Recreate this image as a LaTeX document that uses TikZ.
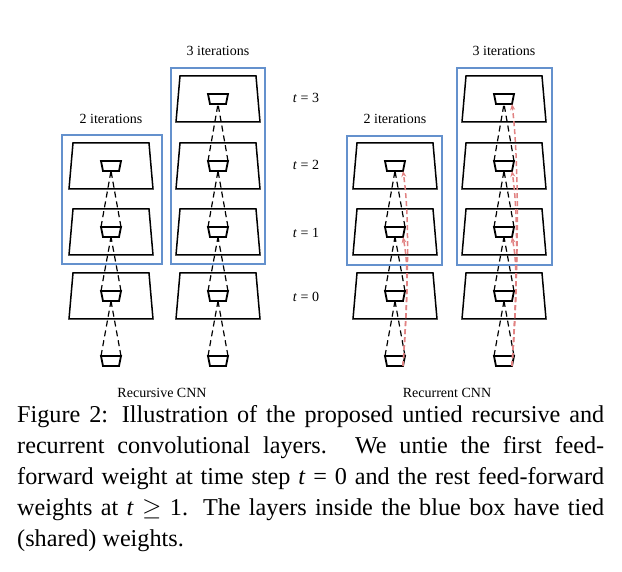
\documentclass[tikz,border=0pt]{standalone}
\usepackage{fontspec}
\setmainfont{Liberation Serif}
\usetikzlibrary{arrows.meta}
\definecolor{bbox}{RGB}{100,145,205}
\definecolor{rec}{RGB}{225,130,130}
\tikzset{
 layer/.style={draw=black,line width=1.5pt,line join=miter},
 sbox/.style={draw=black,line width=1.8pt},
 conn/.style={draw=black,dashed,dash pattern=on 6pt off 4pt,line width=1.2pt},
 tied/.style={draw=bbox,line width=1.5pt},
 rarr/.style={draw=rec,dashed,dash pattern=on 5pt off 3pt,line width=1.5pt,-{Stealth[length=6pt,width=5pt]}},
 lab/.style={font=\fontsize{14}{16}\selectfont}
}
\newcommand\mylayer[3]{% x, y center, name
 \draw[layer] (#1-38,#2-23) -- (#1+38,#2-23) -- (#1+42,#2+23) -- (#1-42,#2+23) -- cycle;
 \mysbox{#1}{#2}{#3}}
\newcommand\mysbox[3]{%
 \draw[sbox] (#1-10,#2-5) -- (#1+10,#2-5) -- (#1+8,#2+5) -- (#1-8,#2+5) -- cycle;
 \coordinate (#3-tl) at (#1-10,#2-5);
 \coordinate (#3-tr) at (#1+10,#2-5);
 \coordinate (#3-b) at (#1,#2+5);
 \coordinate (#3-br) at (#1+8,#2+5);}
\newcommand\tv[1]{\textit{t}~=~#1}
\begin{document}
\begin{tikzpicture}[x=1pt,y=-1pt]
\useasboundingbox (0,0) rectangle (622,572);
\foreach \c/\x/\n in {a/111/2,b/218/3,c/395/2,d/504/3}{
 \mysbox{\x}{361}{\c0}
 \mylayer{\x}{296}{\c1}
 \mylayer{\x}{232}{\c2}
 \mylayer{\x}{166}{\c3}
 \draw[conn] (\c0-tl) -- (\c1-b); \draw[conn] (\c0-tr) -- (\c1-b);
 \draw[conn] (\c1-tl) -- (\c2-b); \draw[conn] (\c1-tr) -- (\c2-b);
 \draw[conn] (\c2-tl) -- (\c3-b); \draw[conn] (\c2-tr) -- (\c3-b);
}
\mylayer{218}{99}{b4}
\mylayer{504}{99}{d4}
\draw[conn] (b3-tl) -- (b4-b); \draw[conn] (b3-tr) -- (b4-b);
\draw[conn] (d3-tl) -- (d4-b); \draw[conn] (d3-tr) -- (d4-b);
\draw[tied] (62,135) rectangle (162,264);
\draw[tied] (171,68) rectangle (265,264);
\draw[tied] (347,136) rectangle (442,265);
\draw[tied] (457,68) rectangle (552,265);
\node[lab] (l1) at (111,119) {2 iterations};
\node[lab] (l2) at (218,51) {3 iterations};
\node[lab] (l3) at (395,119) {2 iterations};
\node[lab] (l4) at (504,51) {3 iterations};
\node[lab] (t3) at (306,98) {\tv{3}};
\node[lab] (t2) at (306,165) {\tv{2}};
\node[lab] (t1) at (306,233) {\tv{1}};
\node[lab] (t0) at (306,297) {\tv{0}};
\node[lab] (n1) at (162,393) {Recursive CNN};
\node[lab] (n2) at (447,393) {Recurrent CNN};
\draw[rarr] (c0-br) .. controls +(4,-60) and +(6,30) .. (c2-br);
\draw[rarr] (c0-br) .. controls +(6,-90) and +(6,40) .. (c3-br);
\draw[rarr] (d0-br) .. controls +(4,-60) and +(6,30) .. (d2-br);
\draw[rarr] (d0-br) .. controls +(6,-90) and +(6,40) .. (d3-br);
\draw[rarr] (d0-br) .. controls +(8,-120) and +(6,50) .. (d4-br);
\node[anchor=north west,inner sep=0pt,text width=587pt,align=justify,
 font=\fontsize{24.2}{31}\selectfont] (cap) at (17,405) {Figure 2: Illustration of the proposed untied recursive and\linebreak
recurrent convolutional layers. We untie the first feed-\linebreak
forward weight at time step \textit{t}~=~0 and the rest feed-forward\linebreak
weights at \textit{t}~$\geq$~1. The layers inside the blue box have tied\linebreak
(shared) weights.};
\end{tikzpicture}
\end{document}
